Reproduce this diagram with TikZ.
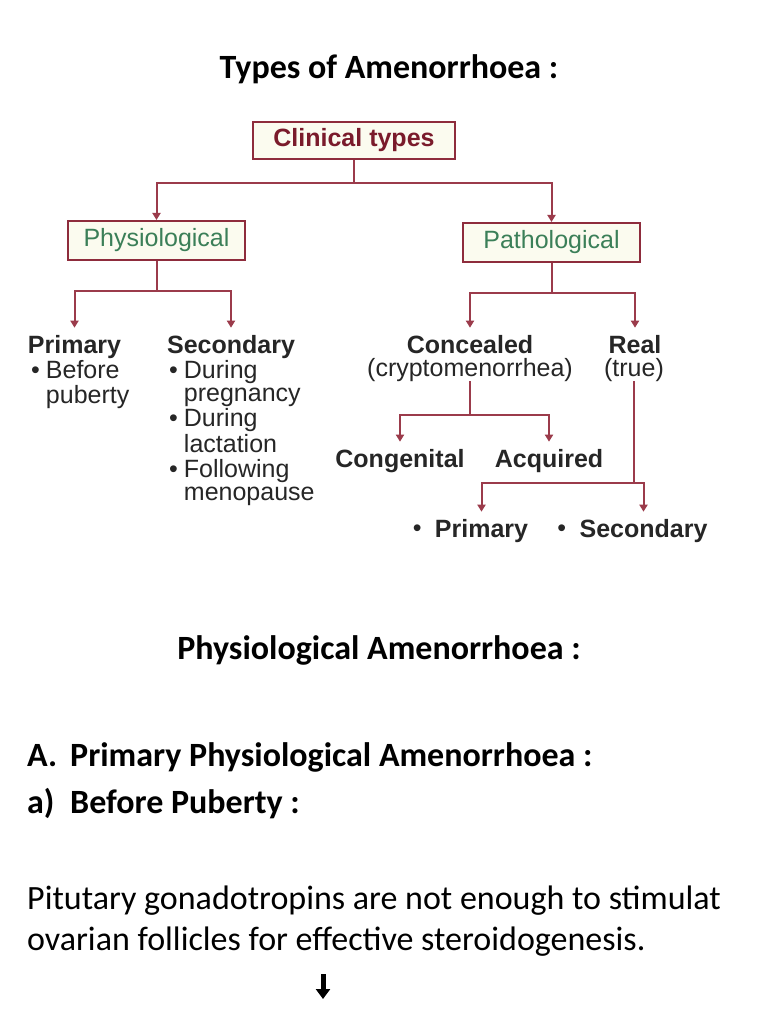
\documentclass[tikz,border=0pt]{standalone}
\usepackage{fontspec}
\setmainfont{Carlito}
\newfontfamily\arialfont{Liberation Sans}
\usetikzlibrary{arrows.meta,positioning}
\definecolor{boxred}{HTML}{8E2C3C}
\definecolor{linkred}{HTML}{9B3B4B}
\definecolor{boxfill}{HTML}{FBFBEF}
\definecolor{grntxt}{HTML}{3B7F58}
\definecolor{darkred}{HTML}{7A1B2B}
\definecolor{ink}{HTML}{262626}
\newcommand{\diafont}{\arialfont\fontsize{25}{23.5}\selectfont}
\newcommand{\bodyfont}{\fontsize{34}{41}\selectfont}
\newcommand{\itm}[2]{\textbullet & #1\\ & #2}
\tikzset{
  typebox/.style={draw=boxred,fill=boxfill,line width=2pt,inner sep=0pt,
                  minimum width=177pt,minimum height=39pt,
                  font=\diafont,text=grntxt},
  hd/.style={anchor=base,inner sep=0pt,font=\diafont\bfseries,text=ink},
  sub/.style={anchor=base,inner sep=0pt,font=\diafont,text=ink},
  blist/.style={anchor=north west,inner sep=0pt,font=\diafont,text=ink},
  bul/.style={inner sep=0pt,font=\diafont,text=ink},
  link/.style={draw=linkred,line width=2pt},
  arrbox/.style={link,-{Triangle[length=7pt,width=8pt]}},
  arrtxt/.style={arrbox,shorten >=7pt},
  heading/.style={anchor=base,inner sep=0pt,font=\bodyfont\bfseries},
  bodyline/.style={anchor=base west,inner sep=0pt,font=\bodyfont},
  fatarr/.style={-{Triangle[length=10pt,width=14pt]},line width=5pt}
}

\begin{document}
\begin{tikzpicture}[x=1pt,y=-1pt]
  \fill[white] (0,0) rectangle (768,1024);
  \useasboundingbox (0,0) rectangle (768,1024);

  \node[heading] (title) at (389,79) {Types of Amenorrhoea :};

  % top of the tree
  \node[typebox,minimum width=202pt,minimum height=37pt,
        font=\diafont\bfseries,text=darkred] (clin) at (354,140.5) {Clinical types};
  \node[typebox] (phys) at (156.5,240.5) {Physiological};
  \node[typebox] (path) at (551.5,242.5) {Pathological};

  \coordinate (jc) at (354,183);
  \draw[link] (clin.south) -- (jc);
  \draw[arrbox] (jc) -| (phys.north);
  \draw[arrbox] (jc) -| (path.north);

  % physiological branch
  \node[hd] (prim) at (74.5,353) {Primary};
  \node[hd] (sec) at (231,353) {Secondary};
  \node[blist] (primlist) at (29,360)
    {\begin{tabular}{@{\hspace{2pt}}l@{\hspace{6pt}}l@{}}\itm{Before}{puberty}\end{tabular}};
  \node[blist] (seclist) at (167,360)
    {\begin{tabular}{@{\hspace{2pt}}l@{\hspace{6pt}}l@{}}\itm{During}{pregnancy}\\
      \itm{During}{lactation}\\ \itm{Following}{menopause}\end{tabular}};

  \coordinate (jp) at (156.5,291);
  \draw[link] (phys.south) -- (jp);
  \draw[arrtxt] (jp) -| (prim.north);
  \draw[arrtxt] (jp) -| (sec.north);

  % pathological branch
  \node[hd] (conc) at (470,353) {Concealed};
  \node[sub] (crypt) at (470,376) {(cryptomenorrhea)};
  \node[hd] (real) at (635,353) {Real};
  \node[sub] (realsub) at (634,376) {(true)};

  \coordinate (jq) at (551.5,293);
  \draw[link] (path.south) -- (jq);
  \draw[arrtxt] (jq) -| (conc.north);
  \draw[arrtxt] (jq) -| (real.north);

  \node[hd] (cong) at (400,467) {Congenital};
  \node[hd] (acq) at (549,467) {Acquired};
  \coordinate (jk) at (470,415);
  \draw[link] (crypt.south) -- (jk);
  \draw[arrtxt] (jk) -| (cong.north);
  \draw[arrtxt] (jk) -| (acq.north);

  \node[hd,label={[bul,label distance=13pt]left:\textbullet}] (rprim) at (481.5,537) {Primary};
  \node[hd,label={[bul,label distance=13pt]left:\textbullet}] (rsec) at (643.5,537) {Secondary};
  \coordinate (jr) at (634,483);
  \draw[link] (realsub.south) -- (jr);
  \draw[arrtxt] (jr) -| (rprim.north);
  \draw[arrtxt] (jr) -| (rsec.north);

  % text below the tree
  \node[heading] (phead) at (379,659) {Physiological Amenorrhoea :};
  \node[bodyline,font=\bodyfont\bfseries] (lineA) at (27,766)
    {\makebox[43pt][l]{A.}Primary Physiological Amenorrhoea :};
  \node[bodyline,font=\bodyfont\bfseries] (linea) at (27,813)
    {\makebox[43pt][l]{a)}Before Puberty :};
  \node[bodyline] (para1) at (27,909) {Pitutary gonadotropins are not enough to stimulat};
  \node[bodyline] (para2) at (27,950) {ovarian follicles for effective steroidogenesis.};

  \coordinate (dtop) at (323,974);
  \coordinate (dbot) at (323,999);
  \draw[fatarr] (dtop) -- (dbot);
\end{tikzpicture}
\end{document}
